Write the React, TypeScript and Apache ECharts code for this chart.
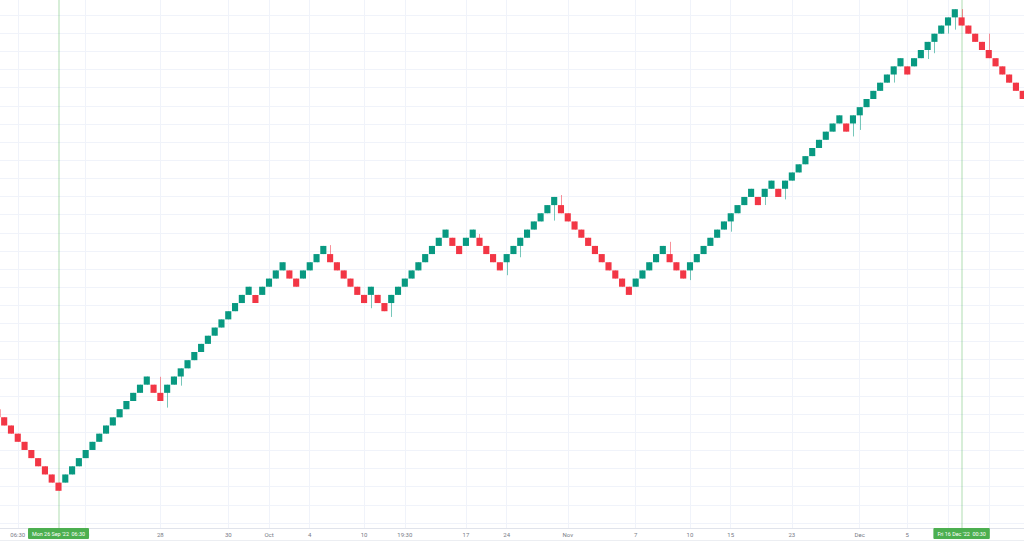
import React, { useEffect, useRef } from "react";
import * as echarts from "echarts";

// Renko brick closes (box size 4.5), left to right
const BOX = 4.5;
const FIRST_BRICK_UP = false;
const closes: number[] = [
  1038.25, 1033.75, 1029.25, 1024.75, 1020.25, 1015.75, 1011.25, 1006.75, 1002.25, 997.75,
  1006.75, 1011.25, 1015.75, 1020.25, 1024.75, 1029.25, 1033.75, 1038.25, 1042.75, 1047.25, 1051.75, 1056.25, 1060.75,
  1051.75, 1047.25,
  1056.25, 1060.75, 1065.25, 1069.75, 1074.25, 1078.75, 1083.25, 1087.75, 1092.25, 1096.75, 1101.25, 1105.75, 1110.25,
  1101.25,
  1110.25, 1114.75, 1119.25, 1123.75,
  1114.75, 1110.25,
  1119.25, 1123.75, 1128.25, 1132.75,
  1123.75, 1119.25, 1114.75, 1110.25, 1105.75, 1101.25,
  1110.25,
  1101.25, 1096.75,
  1105.75, 1110.25, 1114.75, 1119.25, 1123.75, 1128.25, 1132.75, 1137.25, 1141.75,
  1132.75, 1128.25,
  1137.25, 1141.75,
  1132.75, 1128.25, 1123.75, 1119.25,
  1128.25, 1132.75, 1137.25, 1141.75, 1146.25, 1150.75, 1155.25, 1159.75,
  1150.75, 1146.25, 1141.75, 1137.25, 1132.75, 1128.25, 1123.75, 1119.25, 1114.75, 1110.25, 1105.75,
  1114.75, 1119.25, 1123.75, 1128.25, 1132.75,
  1123.75, 1119.25, 1114.75,
  1123.75, 1128.25, 1132.75, 1137.25, 1141.75, 1146.25, 1150.75, 1155.25, 1159.75, 1164.25,
  1155.25,
  1164.25, 1168.75,
  1159.75,
  1168.75, 1173.25, 1177.75, 1182.25, 1186.75, 1191.25, 1195.75, 1200.25, 1204.75,
  1195.75,
  1204.75, 1209.25, 1213.75, 1218.25, 1222.75, 1227.25, 1231.75, 1236.25,
  1227.25,
  1236.25, 1240.75, 1245.25, 1249.75, 1254.25, 1258.75, 1263.25,
  1254.25, 1249.75, 1245.25, 1240.75, 1236.25, 1231.75, 1227.25, 1222.75, 1218.25, 1213.75,
];

// Wicks: [brick index, price]
const wickHighs: [number, number][] = [
  [24, 1060.6], [49, 1133.2], [71, 1139.3], [83, 1160.8], [99, 1135.0], [142, 1263.3], [146, 1249.8],
];
const wickLows: [number, number][] = [
  [25, 1043.6], [27, 1055.7], [55, 1098.4], [58, 1093.6], [75, 1116.6], [77, 1126.5], [82, 1146.7],
  [102, 1113.9], [108, 1140.6], [113, 1155.3], [116, 1158.4], [126, 1193.1], [127, 1196.7],
  [132, 1222.8], [137, 1235.8], [138, 1239.0], [140, 1249.8], [141, 1252.0],
];

// Time scale labels at brick indices
const labelIdx: number[] = [3, 13, 24, 34, 40, 46, 54, 60, 69, 75, 84, 94, 102, 108, 117, 127, 134];
const labelText: string[] = ["06:30", "20", "28", "30", "Oct", "4", "10", "19:30", "17", "24", "Nov", "7", "10", "15", "23", "Dec", "5"];
const gridIdx: number[] = [3, 13, 24, 34, 40, 46, 54, 60, 69, 75, 84, 94, 102, 108, 117, 127, 134, 140, 146];

// Crosshair markers
const markIdx: number[] = [9, 142];
const markText: string[] = ["Mon 26 Sep '22  06:30", "Fri 16 Dec '22  00:30"];

const GREEN = "#089981";
const RED = "#f23645";
const GRID = "#f0f3fa";

export default function App() {
  const ref = useRef<HTMLDivElement>(null);
  useEffect(() => {
    document.body.style.margin = "0";
    if (!ref.current) return;
    const chart = echarts.init(ref.current, null, { renderer: "svg" });

    const hiMap = new Map(wickHighs);
    const loMap = new Map(wickLows);
    const data = closes.map((c, i) => {
      const up = i === 0 ? FIRST_BRICK_UP : c > closes[i - 1];
      const o = up ? c - BOX : c + BOX;
      const lo = loMap.has(i) ? (loMap.get(i) as number) : Math.min(o, c);
      const hi = hiMap.has(i) ? (hiMap.get(i) as number) : Math.max(o, c);
      return [i, o, c, lo, hi];
    });

    const labelMap: Record<string, string> = {};
    labelIdx.forEach((v, k) => (labelMap[String(v)] = labelText[k]));

    const markData: any[] = gridIdx.map((v) => ({ xAxis: v }));
    markIdx.forEach((v, k) => {
      markData.push({
        xAxis: v,
        lineStyle: { color: "rgba(76,175,80,0.28)", width: 1.6, type: "solid" },
        label: {
          show: true,
          position: "start",
          distance: 0,
          formatter: markText[k],
          color: "#ffffff",
          backgroundColor: "#4caf50",
          padding: [3, 4, 3, 4],
          borderRadius: 1,
          fontSize: 5.4,
          fontFamily: "Roboto",
        },
      });
    });

    chart.setOption({
      animation: false,
      backgroundColor: "#ffffff",
      grid: { left: 0, right: 0, top: 0, bottom: 21, containLabel: false },
      xAxis: {
        type: "value",
        min: 0.384,
        max: 151.19,
        axisLine: { show: true, lineStyle: { color: "#e0e3eb", width: 1 } },
        axisTick: { show: false },
        splitLine: { show: false },
        axisLabel: {
          show: true,
          customValues: labelIdx,
          formatter: (v: number) => labelMap[String(v)] ?? "",
          color: "#787b86",
          fontSize: 6,
          fontFamily: "Roboto",
          margin: 3,
          hideOverlap: false,
        },
      },
      yAxis: {
        type: "value",
        min: 977.23,
        max: 1268.33,
        splitNumber: 30,
        axisLine: { show: false },
        axisTick: { show: false },
        axisLabel: { show: false },
        splitLine: { show: true, showMinLine: false, showMaxLine: false, lineStyle: { color: GRID, width: 1 } },
      },
      graphic: [
        {
          type: "line",
          shape: { x1: 0, y1: 540.5, x2: 1024, y2: 540.5 },
          style: { stroke: "#eceef2", lineWidth: 1 },
          silent: true,
        },
      ],
      series: [
        {
          type: "custom",
          clip: true,
          encode: { x: 0, y: [1, 2, 3, 4] },
          data,
          renderItem: (params: any, api: any) => {
            const x = api.value(0);
            const o = api.value(1);
            const c = api.value(2);
            const lo = api.value(3);
            const hi = api.value(4);
            const pO = api.coord([x, o]);
            const pC = api.coord([x, c]);
            const pL = api.coord([x, lo]);
            const pH = api.coord([x, hi]);
            const w = api.size([1, 0])[0] * 0.9;
            const color = c > o ? GREEN : RED;
            const top = Math.min(pO[1], pC[1]);
            const h = Math.abs(pO[1] - pC[1]);
            const cx = Math.round(pO[0]) + 0.5;
            return {
              type: "group",
              children: [
                {
                  type: "line",
                  shape: { x1: cx, y1: pH[1], x2: cx, y2: pL[1] },
                  style: { stroke: color, lineWidth: 1, opacity: 0.55 },
                },
                {
                  type: "rect",
                  shape: { x: pO[0] - w / 2, y: top, width: w, height: h },
                  style: { fill: color },
                },
              ],
            };
          },
          markLine: {
            silent: true,
            z: 1,
            symbol: ["none", "none"],
            label: { show: false },
            lineStyle: { color: GRID, width: 1, type: "solid" },
            data: markData,
          },
        },
      ],
    });

    return () => chart.dispose();
  }, []);

  return <div ref={ref} style={{ width: 1024, height: 549 }} />;
}
